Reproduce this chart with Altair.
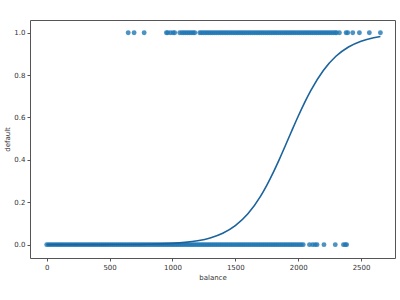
import altair as alt
import pandas as pd

# balances of non-defaulting customers (default = 0)
nondefault_balance = [0, 15, 30, 45, 60, 75, 90, 105, 120, 135, 150, 165, 180, 195, 210, 225, 240,
                      255, 270, 285, 300, 315, 330, 345, 360, 375, 390, 405, 420, 435, 450, 465,
                      480, 495, 510, 525, 540, 555, 570, 585, 600, 615, 630, 645, 660, 675, 690,
                      705, 720, 735, 750, 765, 780, 795, 810, 825, 840, 855, 870, 885, 900, 915,
                      930, 945, 960, 975, 990, 1005, 1020, 1035, 1050, 1065, 1080, 1095, 1110,
                      1125, 1140, 1155, 1170, 1185, 1200, 1215, 1230, 1245, 1260, 1275, 1290,
                      1305, 1320, 1335, 1350, 1365, 1380, 1395, 1410, 1425, 1440, 1455, 1470,
                      1485, 1500, 1515, 1530, 1545, 1560, 1575, 1590, 1605, 1620, 1635, 1650,
                      1665, 1680, 1695, 1710, 1725, 1740, 1755, 1770, 1785, 1800, 1815, 1830,
                      1845, 1860, 1875, 1890, 1905, 1920, 1935, 1950, 1965, 1980, 1995, 2010,
                      2025, 2040, 2090, 2115, 2135, 2150, 2205, 2295, 2360, 2375, 2385]

# balances of defaulting customers (default = 1)
default_balance = [648, 695, 775, 952, 962, 984, 1005, 1018, 1058, 1075, 1090, 1105, 1120, 1135,
                   1150, 1165, 1178, 1217, 1230, 1245, 1260, 1275, 1290, 1305, 1320, 1335, 1350,
                   1365, 1380, 1395, 1410, 1425, 1440, 1455, 1470, 1485, 1500, 1515, 1530, 1545,
                   1560, 1575, 1590, 1605, 1620, 1635, 1650, 1665, 1680, 1695, 1710, 1725, 1740,
                   1755, 1770, 1785, 1800, 1815, 1830, 1845, 1860, 1875, 1890, 1905, 1920, 1935,
                   1950, 1965, 1980, 1995, 2010, 2025, 2040, 2055, 2070, 2085, 2100, 2115, 2130,
                   2145, 2160, 2175, 2190, 2205, 2220, 2235, 2250, 2265, 2280, 2295, 2305, 2328,
                   2381, 2394, 2434, 2487, 2566, 2654]

# fitted logistic curve
curve_balance = [0, 500, 800, 900, 1000, 1100, 1200, 1300, 1400, 1500, 1600, 1700, 1750, 1800,
                 1850, 1900, 1950, 2000, 2050, 2100, 2200, 2300, 2400, 2500, 2600, 2654]
curve_prob = [0.0000, 0.0004, 0.0021, 0.0036, 0.0062, 0.0108, 0.0185, 0.0317, 0.0537, 0.0895,
              0.1455, 0.2279, 0.2799, 0.3385, 0.4025, 0.4700, 0.5387, 0.6059, 0.6693, 0.7271,
              0.8220, 0.8889, 0.9328, 0.9601, 0.9766, 0.9825]

x_ticks = [0, 500, 1000, 1500, 2000, 2500]
y_ticks = [0.0, 0.2, 0.4, 0.6, 0.8, 1.0]

pts = pd.DataFrame({
    "balance": nondefault_balance + default_balance,
    "default": [0] * len(nondefault_balance) + [1] * len(default_balance),
})
curve = pd.DataFrame({"balance": curve_balance, "default": curve_prob})

xs = alt.Scale(domain=[-133, 2770], nice=False, zero=False)
ys = alt.Scale(domain=[-0.063, 1.06], nice=False, zero=False)
xa = alt.Axis(values=x_ticks, title="balance", format="d")
ya = alt.Axis(values=y_ticks, title="default", format=".1f")

points = alt.Chart(pts).mark_circle(size=24, opacity=0.8, color="#1f77b4").encode(
    x=alt.X("balance:Q", scale=xs, axis=xa),
    y=alt.Y("default:Q", scale=ys, axis=ya),
)

line = alt.Chart(curve).mark_line(color="#1b639c", strokeWidth=1.6, interpolate="monotone").encode(
    x=alt.X("balance:Q", scale=xs, axis=xa),
    y=alt.Y("default:Q", scale=ys, axis=ya),
)

chart = alt.layer(points, line).properties(
    width=365,
    height=238,
    padding={"left": 30, "top": 20, "right": 5, "bottom": 42},
    autosize=alt.AutoSizeParams(type="none"),
    background="white",
).configure_view(
    stroke="#555555", strokeWidth=1
).configure_axis(
    grid=False,
    domain=False,
    labelFont="DejaVu Sans",
    titleFont="DejaVu Sans",
    labelFontSize=7,
    titleFontSize=7,
    titleFontWeight="normal",
    labelColor="#333333",
    titleColor="#333333",
    tickColor="#555555",
    tickSize=3,
    labelPadding=2,
    titlePadding=3,
)

chart.save("out.html", embed_options={"renderer": "svg", "actions": False})
